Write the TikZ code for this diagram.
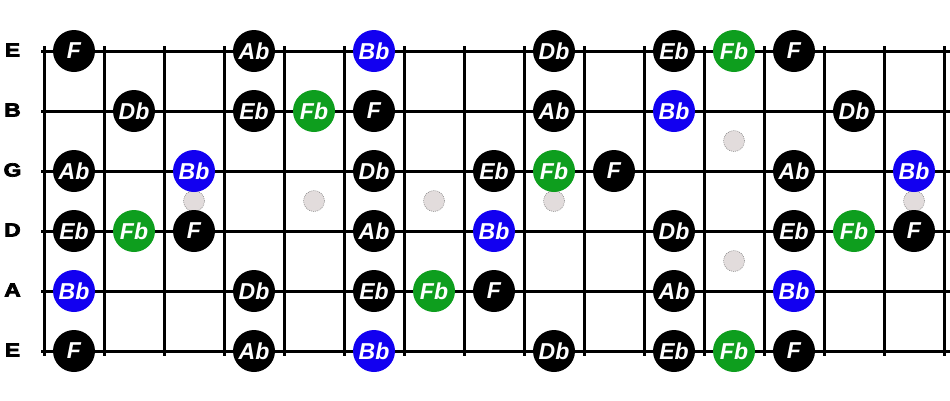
\documentclass[tikz,border=0pt]{standalone}
\usepackage{fontspec}
\setmainfont{Liberation Sans}
\newfontfamily\heavyfont[BoldFeatures={FakeBold=3.5}]{Liberation Sans}
\definecolor{noteblue}{RGB}{18,0,240}
\definecolor{notegreen}{RGB}{14,158,30}
\definecolor{dotfill}{RGB}{226,220,220}
\begin{document}
\begin{tikzpicture}[x=1pt,y=-1pt,
  note/.style={circle,fill=black,minimum size=42pt,inner sep=0pt,text=white,
    font=\fontsize{23}{23}\selectfont\bfseries\itshape},
  rootnote/.style={note,fill=noteblue},
  fbnote/.style={note,fill=notegreen},
  marker/.style={circle,fill=dotfill,draw=gray,dashed,dash pattern=on 1pt off 1pt,line width=0.5pt,minimum size=21pt,inner sep=0pt},
  strlabel/.style={font=\heavyfont\fontsize{19}{19}\selectfont\bfseries,inner sep=0pt},
  line/.style={line width=3pt,black}]
\useasboundingbox (0,0) rectangle (950,400);
% frets
\foreach \i in {0,...,15}
  \draw[line] ({44+60*\i},46) -- ({44+60*\i},356);
% strings
\foreach \j in {0,...,5}
  \draw[line] (41,{51+60*\j}) -- (950,{51+60*\j});
% string labels
\foreach \j/\l in {0/E,1/B,2/G,3/D,4/A,5/E}
  \node[strlabel] (lab-\j) at (12.5,{50+60*\j}) {\scalebox{1.2}[1]{\l}};
% fret markers
\foreach \k in {3,5,7,9,15}
  \node[marker] (dot-\k) at ({14+60*\k},201) {};
\node[marker] (dot-12a) at (734,141) {};
\node[marker] (dot-12b) at (734,261) {};
% notes: slot / string / name / style
\foreach \k/\s/\n/\st in {
  1/0/F/note,4/0/Ab/note,6/0/Bb/rootnote,9/0/Db/note,11/0/Eb/note,12/0/Fb/fbnote,13/0/F/note,
  2/1/Db/note,4/1/Eb/note,5/1/Fb/fbnote,6/1/F/note,9/1/Ab/note,11/1/Bb/rootnote,14/1/Db/note,
  1/2/Ab/note,3/2/Bb/rootnote,6/2/Db/note,8/2/Eb/note,9/2/Fb/fbnote,10/2/F/note,13/2/Ab/note,15/2/Bb/rootnote,
  1/3/Eb/note,2/3/Fb/fbnote,3/3/F/note,6/3/Ab/note,8/3/Bb/rootnote,11/3/Db/note,13/3/Eb/note,14/3/Fb/fbnote,15/3/F/note,
  1/4/Bb/rootnote,4/4/Db/note,6/4/Eb/note,7/4/Fb/fbnote,8/4/F/note,11/4/Ab/note,13/4/Bb/rootnote,
  1/5/F/note,4/5/Ab/note,6/5/Bb/rootnote,9/5/Db/note,11/5/Eb/note,12/5/Fb/fbnote,13/5/F/note}
  \node[\st] (n-\s-\k) at ({14+60*\k},{51+60*\s}) {\n};
\end{tikzpicture}
\end{document}
